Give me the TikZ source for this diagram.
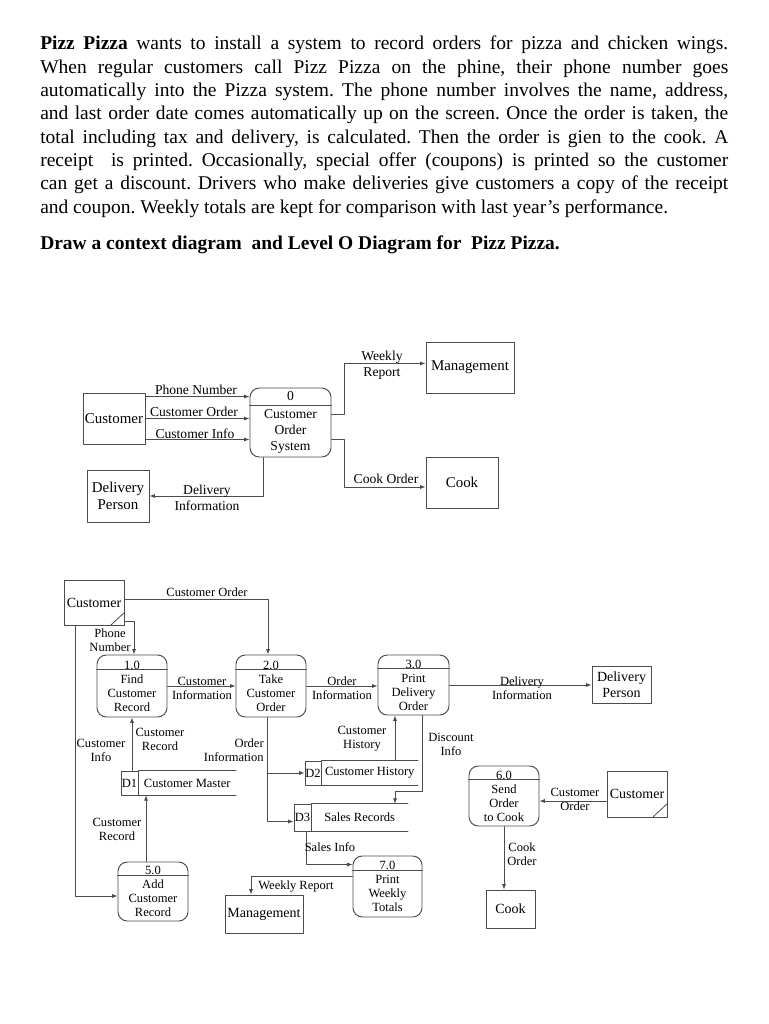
\documentclass[tikz,border=0pt]{standalone}
\usepackage{fontspec}
\setmainfont{Liberation Serif}
\usetikzlibrary{arrows.meta,calc,positioning}
\frenchspacing

\begin{document}
\begin{tikzpicture}[x=.75pt,y=-.75pt,line cap=round,line join=round,
    intro/.style={text width=516pt,align=justify,inner sep=0pt,
      font=\fontsize{14.6}{17.5}\selectfont},
    entity/.style={draw=black!70,line width=.7pt,inner sep=0pt,align=center},
    process/.style={draw=black!70,line width=.7pt,rounded corners=7pt,
      inner sep=0pt,align=center},
    storeid/.style={draw=black!70,line width=.7pt,inner sep=0pt},
    storename/.style={inner sep=0pt},
    divider/.style={draw=black!70,line width=.6pt},
    flow/.style={draw=black!70,line width=.6pt,-{Latex[length=4pt,width=3pt]}},
    ctxfont/.style={font=\fontsize{10.2}{12}\selectfont},
    lvlfont/.style={font=\fontsize{9.4}{10.5}\selectfont},
    lbl/.style={inner sep=0pt,align=center}]
    \fill[white] (0,0) rectangle (768,1024);
    \useasboundingbox (0,0) rectangle (768,1024);

    % The problem statement.
    \node[intro,anchor=base west] (intro) at (40,50)
      {\textbf{Pizz Pizza} wants to install a system to record orders for pizza and chicken wings.\linebreak
       When regular customers call Pizz Pizza on the phine, their phone number goes\linebreak
       automatically into the Pizza system. The phone number involves the name, address,\linebreak
       and last order date comes automatically up on the screen. Once the order is taken, the\linebreak
       total including tax and delivery, is calculated. Then the order is gien to the cook. A\linebreak
       receipt\ \ is printed. Occasionally, special offer (coupons) is printed so the customer\linebreak
       can get a discount. Drivers who make deliveries give customers a copy of the receipt\linebreak
       and coupon. Weekly totals are kept for comparison with last year's performance.};
    \node[inner sep=0pt,anchor=base west,font=\fontsize{14.6}{17.5}\selectfont\bfseries] (task) at (40,249)
      {Draw a context diagram\ \ and Level O Diagram for\ \ Pizz Pizza.};

    % Context diagram: entities and the single process.
    \node[entity,minimum width=46.5pt,minimum height=38.25pt,font=\fontsize{11.2}{13}\selectfont]
      (ccust) at (114,418.5) {Customer};
    \node[entity,minimum width=66pt,minimum height=38.25pt,font=\fontsize{11.2}{13}\selectfont]
      (cmgmt) at (470,367.5) {Management};
    \node[entity,minimum width=54pt,minimum height=38.25pt,font=\fontsize{11.2}{13}\selectfont]
      (ccook) at (462,482.5) {Cook};
    \node[entity,minimum width=46.5pt,minimum height=39pt,font=\fontsize{11.2}{13}\selectfont]
      (cdp) at (118,496) {Delivery\\Person};
    \node[process,ctxfont,minimum width=60.75pt,minimum height=51.75pt]
      (p0) at (290.5,422.5) {0\\[2pt]Customer\\Order\\System};
    \draw[divider] ($(p0.north west)+(0,18)$) -- ($(p0.north east)+(0,18)$);

    % Context diagram: data flows.
    \coordinate (ctx-phone) at ($(ccust.north east)+(0,4)$);
    \coordinate (ctx-info) at ($(ccust.south east)+(0,-5)$);
    \coordinate (ctx-wr) at ($(p0.east)+(0,-8)$);
    \coordinate (ctx-co) at ($(p0.east)+(0,16.5)$);
    \coordinate (ctx-dl) at ($(p0.south)+(-27.5,0)$);
    \draw[flow] (ctx-phone) -- (ctx-phone -| p0.west);
    \draw[flow] (ccust.east) -- (ccust.east -| p0.west);
    \draw[flow] (ctx-info) -- (ctx-info -| p0.west);
    \draw[flow] (ctx-wr) -- ++(13,0) |- ($(cmgmt.west)+(0,-4)$);
    \draw[flow] (ctx-co) -- ++(13,0) |- ($(ccook.west)+(0,4.5)$);
    \draw[flow] (ctx-dl) |- (cdp.east);
    \node[lbl,ctxfont] (l-cphone) at (196,390) {Phone Number};
    \node[lbl,ctxfont] (l-corder) at (194,412) {Customer Order};
    \node[lbl,ctxfont] (l-cinfo) at (195,434) {Customer Info};
    \node[lbl,ctxfont] (l-cwr) at (382,365) {Weekly\\Report};
    \node[lbl,ctxfont] (l-cco) at (386,479) {Cook Order};
    \node[lbl,ctxfont] (l-cdl) at (207,497.5) {Delivery\\Information};

    % Level 0: external entities.
    \node[entity,minimum width=45pt,minimum height=33.75pt,font=\fontsize{10.5}{12}\selectfont]
      (cust) at (94,602.5) {Customer};
    \draw[divider] ($(cust.south east)+(-14,0)$) -- ($(cust.south east)+(0,-13)$);
    \node[entity,minimum width=45pt,minimum height=34.5pt,font=\fontsize{10.5}{12}\selectfont]
      (cust2) at (637,794) {Customer};
    \draw[divider] ($(cust2.south east)+(-14,-1)$) -- ($(cust2.south east)+(0,-14)$);
    \node[entity,minimum width=44.25pt,minimum height=27.75pt,font=\fontsize{10.5}{12}\selectfont]
      (dp) at (621.5,684.5) {Delivery\\Person};
    \node[entity,minimum width=36.75pt,minimum height=28.5pt,font=\fontsize{10.5}{12}\selectfont]
      (cook) at (510.5,909) {Cook};
    \node[entity,minimum width=58.5pt,minimum height=28.5pt,font=\fontsize{10.5}{12}\selectfont]
      (mgmt) at (264,914) {Management};

    % Level 0: processes.
    \node[process,lvlfont,minimum width=52.5pt,minimum height=46.5pt]
      (p1) at (132,686) {1.0\\Find\\Customer\\Record};
    \node[process,lvlfont,minimum width=52.5pt,minimum height=46.5pt]
      (p2) at (271,686) {2.0\\Take\\Customer\\Order};
    \node[process,lvlfont,minimum width=53.25pt,minimum height=45pt]
      (p3) at (413.5,685) {3.0\\Print\\Delivery\\Order};
    \node[process,lvlfont,minimum width=52.5pt,minimum height=44.25pt]
      (p5) at (153,891.5) {5.0\\Add\\Customer\\Record};
    \node[process,lvlfont,minimum width=52.5pt,minimum height=45pt]
      (p6) at (504,796) {6.0\\Send\\Order\\to Cook};
    \node[process,lvlfont,minimum width=51.75pt,minimum height=45.75pt]
      (p7) at (387.5,886.5) {7.0\\Print\\Weekly\\Totals};
    \draw[divider] ($(p1.north west)+(0,15)$) -- ($(p1.north east)+(0,15)$);
    \draw[divider] ($(p2.north west)+(0,15)$) -- ($(p2.north east)+(0,15)$);
    \draw[divider] ($(p3.north west)+(0,14)$) -- ($(p3.north east)+(0,14)$);
    \draw[divider] ($(p5.north west)+(0,14)$) -- ($(p5.north east)+(0,14)$);
    \draw[divider] ($(p6.north west)+(0,14)$) -- ($(p6.north east)+(0,14)$);
    \draw[divider] ($(p7.north west)+(0,15)$) -- ($(p7.north east)+(0,15)$);

    % Level 0: data stores, open on the right.
    \node[storeid,lvlfont,minimum width=12.75pt,minimum height=18pt] (d1id) at (129.5,783) {D1};
    \node[storename,lvlfont,minimum width=72.75pt,minimum height=18pt,right=0pt of d1id] (d1) {Customer Master};
    \node[storeid,lvlfont,minimum width=12pt,minimum height=18pt] (d2id) at (313,773) {D2};
    \node[storename,lvlfont,minimum width=72pt,minimum height=18pt,right=0pt of d2id] (d2) {Customer History};
    \node[storeid,lvlfont,minimum width=12.75pt,minimum height=20.25pt] (d3id) at (302.5,817.5) {D3};
    \node[storename,lvlfont,minimum width=72pt,minimum height=20.25pt,right=0pt of d3id] (d3) {Sales Records};
    \draw[divider] (d1.north west) -- (d1.north east);
    \draw[divider] (d1.south west) -- (d1.south east);
    \draw[divider] (d2.north west) -- (d2.north east);
    \draw[divider] (d2.south west) -- (d2.south east);
    \draw[divider] (d3.north west) -- (d3.north east);
    \draw[divider] (d3.south west) -- (d3.south east);

    % Level 0: data flows.
    \coordinate (cust-phone) at ($(cust.south east)+(0,-4)$);
    \coordinate (cust-info) at ($(cust.south west)+(12,0)$);
    \coordinate (p5-up) at ($(p5.north)+(-7,0)$);
    \coordinate (p2-down) at ($(p2.south)+(-4,0)$);
    \coordinate (p3-hist) at ($(p3.south)+(-18.5,0)$);
    \coordinate (p3-disc) at ($(p3.south)+(8.5,0)$);
    \coordinate (p7-in) at ($(p7.north west)+(0,9)$);
    \coordinate (p7-out) at ($(p7.west)+(0,-10.5)$);
    \coordinate (cust2-out) at ($(cust2.west)+(0,7)$);
    \draw[flow] ($(cust.east)+(0,-3.5)$) -| ($(p2.north)+(-3,0)$);
    \draw[flow] (cust-phone) -| ($(p1.north)+(2,0)$);
    \draw[flow] (cust-info) |- ($(p5.west)+(0,4.5)$);
    \draw[flow] (p1.east) -- (p2.west);
    \draw[flow] (p2.east) -- (p2.east -| p3.west);
    \draw[flow] (p3.east) -- (p3.east -| dp.west);
    \draw[flow] (p1.south |- d1id.north) -- (p1.south);
    \draw[flow] (p5-up) -- (p5-up |- d1.south);
    \draw[flow] (p2-down) |- ($(d3id.west)+(0,4)$);
    \draw[flow] (p2-down |- d2id.west) -- (d2id.west);
    \draw[flow] (p3-hist |- d2.north) -- (p3-hist);
    \draw[flow] (p3-disc) |- ($(p3-hist |- d3.north)+(0,-12)$) -- (p3-hist |- d3.north);
    \draw[flow] ($(d3id.south)+(3.5,0)$) |- (p7-in);
    \draw[flow] (p7-out) -| ($(mgmt.north)+(-13,0)$);
    \draw[flow] (cust2-out) -- (cust2-out -| p6.east);
    \draw[flow] (p6.south) -- (p6.south |- cook.north);

    % Level 0: flow labels.
    \node[lbl,lvlfont] (l-order) at (207,592) {Customer Order};
    \node[lbl,lvlfont] (l-phone) at (110,640) {Phone\\Number};
    \node[lbl,lvlfont] (l-info) at (101,750) {Customer\\Info};
    \node[lbl,lvlfont] (l-cinf) at (202,688.5) {Customer\\Information};
    \node[lbl,lvlfont] (l-oinf) at (342,688.5) {Order\\Information};
    \node[lbl,lvlfont] (l-dinf) at (522,688) {Delivery\\Information};
    \node[lbl,lvlfont] (l-rec1) at (160,739.5) {Customer\\Record};
    \node[lbl,lvlfont,align=right,anchor=east] (l-oinf2) at (264,750) {Order\\Information};
    \node[lbl,lvlfont] (l-hist) at (362,739) {Customer\\History};
    \node[lbl,lvlfont] (l-disc) at (451,744) {Discount\\Info};
    \node[lbl,lvlfont] (l-rec2) at (117,829) {Customer\\Record};
    \node[lbl,lvlfont] (l-sales) at (330,847) {Sales Info};
    \node[lbl,lvlfont] (l-wr) at (296,886) {Weekly Report};
    \node[lbl,lvlfont] (l-corder) at (575,799.5) {Customer\\Order};
    \node[lbl,lvlfont] (l-cook) at (522,854.5) {Cook\\Order};
  \end{tikzpicture}
\end{document}
